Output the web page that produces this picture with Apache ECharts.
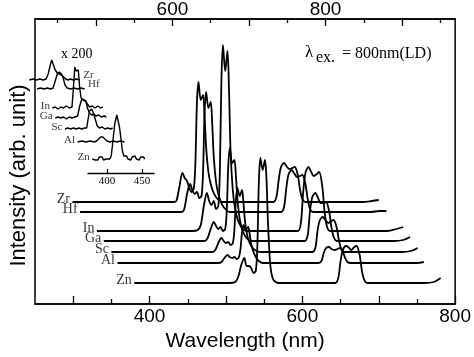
<!DOCTYPE html>
<html><head><meta charset="utf-8">
<script src="https://cdn.jsdelivr.net/npm/echarts@6/dist/echarts.min.js"></script>
<style>html,body{margin:0;padding:0;background:#fff}#c{width:474px;height:357px}</style>
</head><body><div id="c"></div>
<script>
// ---------- DATA ----------
const names = ['Zr', 'Hf', 'In', 'Ga', 'Sc', 'Al', 'Zn'];
// main spectra: common wavelength grid (nm) and intensities (arb.)
const mainLambda = [380,505,512,516,520,524,527,530,533,536,539,541,543,545,548,551,553,555,558,561,565,570,576,643,647,650,653,657,660,664,668,671,675,678,681,685,760,772,781];
const zrMain = [0,0,0,1,15,29,24,21,14,10,14,40,100,120,102,107,85,55,30,18,9,3,0,0,5,22,35,39,36,33,34,35,27,12,3,0,0,1,2];
const hfMain = [0,0,0,2,18,28,22,18,20,14,16,40,100,120,104,110,88,55,30,18,9,3,0,0,5,24,38,42,39,35,36,37,28,13,3,0,0,1,1];
const inMain = [0,0,1,6,25,38,30,26,30,22,25,60,150,186,160,180,140,80,40,22,10,3,0,0,8,38,58,64,60,55,57,59,45,20,5,0,0,2,4];
const gaMain = [0,0,0,3,12,19,15,12,14,10,12,30,75,93,78,81,65,42,22,12,5,1,0,0,6,30,44,48,44,38,38,39,30,14,4,0,0,1,4];
const scMain = [0,0,0,2,9,14,11,9,10,7,9,22,52,64,56,62,48,30,16,9,4,1,0,0,4,22,32,35,32,29,31,32,24,11,3,0,0,1,4];
const alMain = [0,0,0,1,5,8,6,5,6,4,6,14,31,38,33,36,29,19,11,6,2,0,0,0,2,10,15,16,14,13,14,15,11,5,1,0,0,0,1];
const znMain = [0,0,1,6,18,25,17,17,15,10,12,35,100,125,113,123,105,60,18,5,1,0,0,0,5,22,33,37,36,33,36,37,28,12,3,0,0,1,5];
const mainShift = [-81, -71, -49, -40, -30, -22, 0];   // waterfall wavelength shift (nm)
const mainOffset = [102, 92, 73, 63, 52, 41, 21];     // waterfall vertical offset

// inset spectra (x 200): [wavelength nm, intensity]
const zrInset = [[379,0],[384,1],[389,0],[394,1],[399,0],[403,1],[406,6],[409,15],[411,20],[413,18],[416,10],[419,7],[422,6],[425,5],[428,3],[431,1],[434,0],[438,1],[442,0],[446,1],[451,0]];
const hfInset = [[379,0],[384,1],[389,0],[394,1],[398,0],[402,1],[405,8],[408,15],[411,17],[414,15],[416,12],[419,4],[422,1],[427,0],[432,1],[437,0],[442,1],[447,0]];
const inInset = [[379,0],[383,1],[387,-1],[391,1],[395,0],[399,2],[403,0],[407,1],[409,20],[411,41],[413,37],[414,36],[416,38],[418,20],[420,10],[423,8],[426,7],[429,4],[432,1],[436,2],[440,0],[444,2],[448,0],[451,1]];
const gaInset = [[379,0],[383,1],[387,0],[391,1],[395,-1],[399,1],[403,0],[407,1],[411,2],[414,12],[417,19],[420,18],[423,17],[425,10],[428,5],[431,3],[434,4],[437,2],[441,3],[445,1],[449,2],[452,1]];
const scInset = [[379,0],[383,1],[387,0],[391,1],[395,0],[399,1],[403,0],[407,1],[410,1],[412,10],[414,18],[417,20],[419,17],[421,16],[423,8],[425,3],[428,1],[432,2],[436,0],[440,1],[444,0],[447,1]];
const alInset = [[379,0],[385,1],[391,0],[397,1],[403,0],[406,1],[409,3],[412,5],[415,5],[418,3],[421,1],[425,0],[430,1],[435,0],[440,1],[446,0]];
const znInset = [[379,0],[381,2],[383,-1],[385,1],[387,-1],[389,2],[391,0],[393,2],[395,-1],[397,1],[399,0],[401,2],[404,0],[406,3],[408,15],[411,35],[414,44],[416,38],[418,31],[420,20],[422,8],[424,3],[426,1],[428,3],[430,0],[432,2],[434,-1],[436,2],[438,0],[440,3],[442,0],[444,2],[446,-1],[448,2],[450,0],[452,2],[454,0]];
const insetShift = [-90, -79, -57, -53, -39, -21, 0];
const insetOffset = [93, 84, 65, 55, 44, 31, 14];

const bottomMajor = [300, 400, 500, 600, 700, 800];
const bottomMinor = [350, 450, 550, 650, 750];
const bottomLabels = [400, 600, 800];
const topMajor = [500, 600, 700, 800, 900];
const topMinor = [450, 550, 650, 750, 850, 950];
const topLabels = [600, 800];
const insetTicks = [400, 450];

// ---------- CHART ----------
const mainInt = [zrMain, hfMain, inMain, gaMain, scMain, alMain, znMain];
const insetData = [zrInset, hfInset, inInset, gaInset, scInset, alInset, znInset];
const SANS = 'Liberation Sans', SERIF = 'Liberation Serif';
const chart = echarts.init(document.getElementById('c'), null, {renderer: 'canvas'});

const series = [];
names.forEach((n, i) => {
  series.push({
    type: 'line', xAxisIndex: 0, yAxisIndex: 0, showSymbol: false, symbol: 'none',
    smooth: 0.3, silent: true,
    lineStyle: {color: '#000', width: 1.8},
    data: mainLambda.map((l, k) => [l + mainShift[i], mainInt[i][k] + mainOffset[i]])
  });
});
series.push({
  type: 'scatter', xAxisIndex: 0, yAxisIndex: 0, symbolSize: 1, silent: true,
  itemStyle: {color: 'rgba(0,0,0,0)'},
  data: names.map((n, i) => ({name: n, value: [mainLambda[0] + mainShift[i], mainOffset[i]]})),
  label: {show: true, position: 'left', distance: 2, offset: [0, -3], formatter: '{b}',
    fontFamily: SERIF, fontSize: 14, color: '#000'}
});
names.forEach((n, i) => {
  series.push({
    type: 'line', xAxisIndex: 4, yAxisIndex: 1, showSymbol: false, symbol: 'none',
    silent: true,
    lineStyle: {color: '#000', width: 1.4},
    data: insetData[i].map(p => [p[0] + insetShift[i], p[1] + insetOffset[i]])
  });
});
series.push({
  type: 'scatter', xAxisIndex: 4, yAxisIndex: 1, symbolSize: 1, silent: true,
  itemStyle: {color: 'rgba(0,0,0,0)'},
  data: names.map((n, i) => {
    const d = insetData[i];
    const right = i < 2;
    const p = right ? d[d.length - 1] : d[0];
    return {name: n, value: [p[0] + insetShift[i], insetOffset[i]],
      label: {position: right ? 'right' : 'left', offset: right ? [1, -5] : [0, -2]}};
  }),
  label: {show: true, distance: 2, formatter: '{b}', fontFamily: SERIF, fontSize: 11, color: '#000'}
});

const axisLineStyle = {show: true, lineStyle: {color: '#000', width: 1.5}};
chart.setOption({
  animation: false,
  backgroundColor: '#fff',
  title: [
    {text: 'x 200', left: 56, top: 42, textStyle: {fontFamily: SERIF, fontSize: 14, fontWeight: 'normal', color: '#000'}},
    {text: 'λ', left: 300, top: 39, textStyle: {fontFamily: SERIF, fontSize: 17, fontWeight: 'normal', color: '#000'}},
    {text: 'ex.', left: 311, top: 45, textStyle: {fontFamily: SERIF, fontSize: 16, fontWeight: 'normal', color: '#000'}},
    {text: '= 800nm(LD)', left: 337, top: 41, textStyle: {fontFamily: SERIF, fontSize: 16, fontWeight: 'normal', color: '#000'}}
  ],
  grid: [
    {left: 29, right: 18, top: 19, bottom: 53, show: true, borderColor: '#000', borderWidth: 1.5, backgroundColor: 'transparent'},
    {left: 22, width: 140, top: 40, height: 133, show: false},
    {left: 88, width: 66, top: 40, height: 133, show: false}
  ],
  xAxis: [
    {type: 'value', gridIndex: 0, position: 'bottom', min: 250, max: 800,
      axisLine: axisLineStyle,
      axisTick: {show: true, inside: true, length: 8, customValues: bottomMajor, lineStyle: {color: '#000', width: 1.3}},
      axisLabel: {show: true, customValues: bottomLabels, margin: 3, fontFamily: SANS, fontSize: 19, color: '#000'},
      splitLine: {show: false},
      name: 'Wavelength (nm)', nameLocation: 'middle', nameGap: 23,
      nameTextStyle: {fontFamily: SANS, fontSize: 21, color: '#000'}},
    {type: 'value', gridIndex: 0, position: 'bottom', min: 250, max: 800,
      axisLine: {show: false},
      axisTick: {show: true, inside: true, length: 5, customValues: bottomMinor, lineStyle: {color: '#000', width: 1.3}},
      axisLabel: {show: false}, splitLine: {show: false}},
    {type: 'value', gridIndex: 0, position: 'top', min: 420.4, max: 969.3,
      axisLine: axisLineStyle,
      axisTick: {show: true, inside: true, length: 7, customValues: topMajor, lineStyle: {color: '#000', width: 1.3}},
      axisLabel: {show: true, customValues: topLabels, margin: 0, fontFamily: SANS, fontSize: 19, color: '#000'},
      splitLine: {show: false}},
    {type: 'value', gridIndex: 0, position: 'top', min: 420.4, max: 969.3,
      axisLine: {show: false},
      axisTick: {show: true, inside: true, length: 4, customValues: topMinor, lineStyle: {color: '#000', width: 1.3}},
      axisLabel: {show: false}, splitLine: {show: false}},
    // inset: hidden axis for the curves (same scale as the visible inset axis, wider grid)
    {type: 'value', gridIndex: 1, min: 278.57, max: 478.57, show: false},
    // inset: visible axis
    {type: 'value', gridIndex: 2, position: 'bottom', min: 373, max: 467,
      axisLine: {show: true, lineStyle: {color: '#000', width: 1.3}},
      axisTick: {show: true, inside: true, length: 4, customValues: insetTicks, lineStyle: {color: '#000', width: 1.2}},
      axisLabel: {show: true, customValues: insetTicks, margin: 3, fontFamily: SERIF, fontSize: 11, color: '#000'},
      splitLine: {show: false}}
  ],
  yAxis: [
    {type: 'value', gridIndex: 0, min: 0, max: 285,
      axisLine: {show: false}, axisTick: {show: false}, axisLabel: {show: false}, splitLine: {show: false},
      name: 'Intensity (arb. unit)', nameLocation: 'middle', nameGap: 5, nameRotate: 90,
      nameTextStyle: {fontFamily: SANS, fontSize: 22, color: '#000', padding: [0, 28, 0, 0]}},
    {type: 'value', gridIndex: 1, min: 0, max: 133, show: false},
    {type: 'value', gridIndex: 2, min: 0, max: 133, show: false}
  ],
  series: series
});
</script></body></html>
